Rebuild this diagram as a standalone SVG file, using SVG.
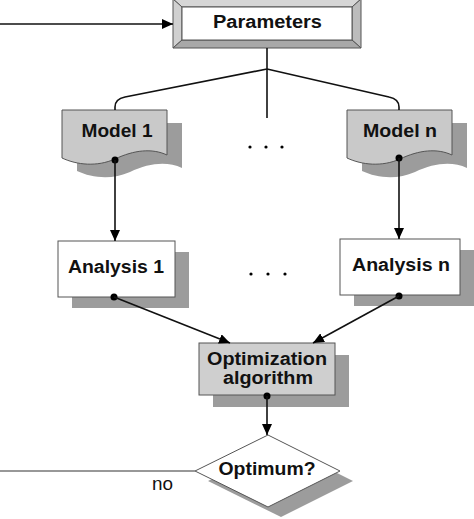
<svg xmlns="http://www.w3.org/2000/svg" width="474" height="519" viewBox="0 0 474 519">
<style>
.t{font-family:"Liberation Sans",Arial,sans-serif;font-weight:bold;font-size:18px;fill:#111;text-anchor:middle}
.n{font-family:"Liberation Sans",Arial,sans-serif;font-size:18px;fill:#111;text-anchor:middle}
.c{fill:none;stroke:#111;stroke-width:1.6}
.sh{fill:#9c9c9c}
.ob{stroke:#555;stroke-width:1}
.dot{fill:#000}
</style>
<defs>
<marker id="ah" markerWidth="12" markerHeight="10" refX="11" refY="5" orient="auto" markerUnits="userSpaceOnUse">
<path d="M0,0 L11,5 L0,10 Z" fill="#000"/>
</marker>
<path id="doc" d="M0,0 H105 V45 C90,38 72,40 53,49 C35,57 15,55 0,48 Z"/>
</defs>
<rect width="474" height="519" fill="#fff"/>

<g id="parameters">
<polygon points="173,-1 361,-1 352,7 182,7" fill="#d6d6d6" class="ob"/>
<polygon points="173,-1 182,7 182,40 173,48" fill="#d0d0d0" class="ob"/>
<polygon points="361,-1 361,48 352,40 352,7" fill="#bcbcbc" class="ob"/>
<polygon points="173,48 182,40 352,40 361,48" fill="#a8a8a8" class="ob"/>
<rect x="182" y="7" width="170" height="33" fill="#fff" class="ob"/>
<text class="t" x="267.5" y="28" textLength="109" lengthAdjust="spacingAndGlyphs">Parameters</text>
</g>

<g id="model1">
<use href="#doc" x="77" y="123" class="sh"/>
<use href="#doc" x="62" y="110" fill="#c9c9c9" stroke="#555" stroke-width="1"/>
<text class="t" x="117" y="137" textLength="71" lengthAdjust="spacingAndGlyphs">Model 1</text>
</g>

<g id="modeln">
<use href="#doc" x="362" y="123" class="sh"/>
<use href="#doc" x="347" y="110" fill="#c9c9c9" stroke="#555" stroke-width="1"/>
<text class="t" x="400" y="137" textLength="74" lengthAdjust="spacingAndGlyphs">Model n</text>
</g>

<g id="dots1">
<circle cx="250" cy="147" r="1.6" class="dot"/>
<circle cx="266" cy="147" r="1.6" class="dot"/>
<circle cx="282" cy="147" r="1.6" class="dot"/>
</g>

<g id="analysis1">
<rect x="72" y="252" width="117" height="56" class="sh"/>
<rect x="58" y="241" width="117" height="56" fill="#fff" class="ob"/>
<text class="t" x="116" y="273" textLength="96" lengthAdjust="spacingAndGlyphs">Analysis 1</text>
</g>

<g id="analysisn">
<rect x="354" y="250" width="120" height="56" class="sh"/>
<rect x="340" y="239" width="120" height="56" fill="#fff" class="ob"/>
<text class="t" x="401" y="271" textLength="98" lengthAdjust="spacingAndGlyphs">Analysis n</text>
</g>

<g id="dots2">
<circle cx="251" cy="274" r="1.6" class="dot"/>
<circle cx="268" cy="274" r="1.6" class="dot"/>
<circle cx="285" cy="274" r="1.6" class="dot"/>
</g>

<g id="optimization">
<rect x="213" y="355" width="136" height="52" class="sh"/>
<rect x="199" y="343" width="136" height="52" fill="#cfcfcf" class="ob"/>
<text class="t" x="267" y="365" textLength="120" lengthAdjust="spacingAndGlyphs">Optimization</text>
<text class="t" x="268" y="384" textLength="90" lengthAdjust="spacingAndGlyphs">algorithm</text>
</g>

<g id="optimum">
<polygon points="281,445 353,481 281,517 208,481" class="sh"/>
<polygon points="268,435 340,471 268,507 195,471" fill="#fff" class="ob"/>
<text class="t" x="267" y="475" textLength="97" lengthAdjust="spacingAndGlyphs">Optimum?</text>
</g>

<g id="connectors">
<line x1="0" y1="24" x2="173" y2="24" class="c" marker-end="url(#ah)"/>
<path d="M267,48 V118" class="c"/>
<path d="M267,69 L125,97 Q115,99 115,107 V110" class="c"/>
<path d="M267,69 L389,97 Q399,99 399,107 V110" class="c"/>
<circle cx="115" cy="160" r="3.5" class="dot"/>
<line x1="115" y1="160" x2="115" y2="241" class="c" marker-end="url(#ah)"/>
<circle cx="399" cy="158" r="3.5" class="dot"/>
<line x1="399" y1="158" x2="399" y2="239" class="c" marker-end="url(#ah)"/>
<circle cx="114" cy="297" r="3.5" class="dot"/>
<line x1="114" y1="297" x2="230" y2="343" class="c" marker-end="url(#ah)"/>
<circle cx="399" cy="296" r="3.5" class="dot"/>
<line x1="399" y1="296" x2="313" y2="343" class="c" marker-end="url(#ah)"/>
<circle cx="267" cy="396" r="3.5" class="dot"/>
<line x1="267" y1="396" x2="267" y2="435" class="c" marker-end="url(#ah)"/>
<line x1="0" y1="471" x2="195" y2="471" stroke="#333" stroke-width="1.2"/>
<text class="n" x="162.5" y="490" textLength="21" lengthAdjust="spacingAndGlyphs">no</text>
</g>
</svg>
